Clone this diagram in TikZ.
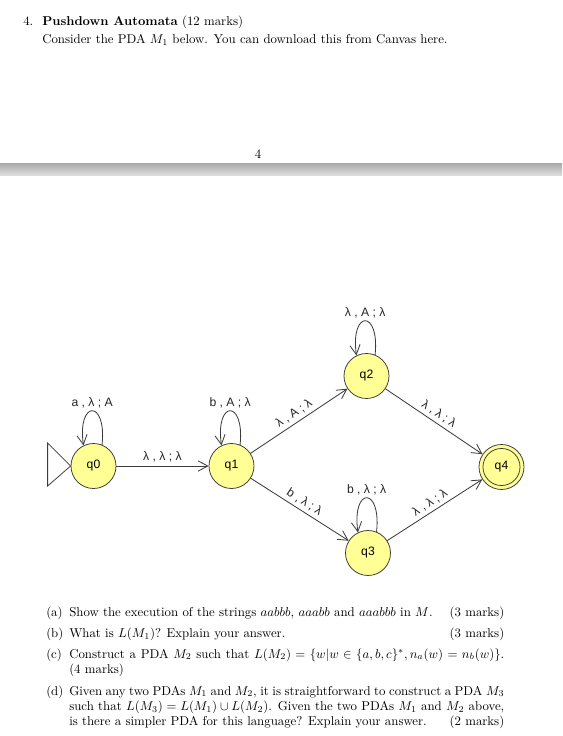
\documentclass[tikz,border=0pt]{standalone}
\usepackage{fontspec}
\newfontfamily\jflapfont{Liberation Sans}
\usetikzlibrary{arrows.meta}
\definecolor{jflapyellow}{RGB}{255,255,150}
\definecolor{jflapline}{RGB}{60,60,60}
\begin{document}
\begin{tikzpicture}[x=0.78pt,y=0.78pt,
  txt/.style={anchor=base west,inner sep=0pt},
  state/.style={circle,draw=jflapline,fill=jflapyellow,minimum size=35.1pt,inner sep=0pt,line width=0.6pt,font=\jflapfont\fontsize{9.5}{11}\selectfont},
  innerring/.style={circle,draw=jflapline,minimum size=28.9pt,inner sep=0pt,line width=0.6pt},
  edge/.style={draw=jflapline,line width=0.65pt,-{Straight Barb[length=7.5pt,width=8pt,line width=0.65pt]}},
  elabel/.style={font=\jflapfont\fontsize{9.5}{11}\selectfont,text=black!85,inner sep=2.5pt},
  looplabel/.style={elabel,inner sep=1.5pt},
  initial/.style={draw=jflapline,fill=white,line width=0.6pt,line join=miter}
]
\useasboundingbox (0,0) rectangle (562,-736);
\fill[white] (0,0) rectangle (562,-736);

% header
\node[txt] (qnum) at (23,-25.5) {4.};
\node[txt] (qtitle) at (42,-25.5) {\textbf{Pushdown Automata} (12 marks)};
\node[txt] (intro) at (42,-44) {Consider the PDA $M_1$ below. You can download this from Canvas here.};

% page number and page gap
\node[inner sep=0pt] (pagenum) at (258,-154) {4};
\shade[top color=black!32,bottom color=black!12] (0,-164) rectangle (562,-176);

% states
\node[state] (q0) at (93.5,-466) {q0};
\node[state] (q1) at (231.5,-466) {q1};
\node[state] (q2) at (366.5,-376) {q2};
\node[state] (q3) at (368,-553) {q3};
\node[state] (q4) at (501.5,-467) {};
\node[innerring] (q4in) at (q4.center) {};
\node[font=\jflapfont\fontsize{9.5}{11}\selectfont,inner sep=0pt] (q4t) at (q4.center) {q4};

% initial marker
\draw[initial] (q0.west) -- ++(-23,23) -- ++(0,-43) -- cycle;

% loops
\draw[edge] (q0.68) .. controls +(84:46) and +(98:46) .. (q0.116)
  node[midway,above,looplabel] (l00) {a , λ ; A};
\draw[edge] (q1.68) .. controls +(84:46) and +(98:46) .. (q1.116)
  node[midway,above,looplabel] (l11) {b , A ; λ};
\draw[edge] (q2.68) .. controls +(84:46) and +(98:46) .. (q2.116)
  node[midway,above,looplabel] (l22) {λ , A ; λ};
\draw[edge] (q3.68) .. controls +(84:46) and +(98:46) .. (q3.116)
  node[midway,above,looplabel] (l33) {b , λ ; λ};

% transitions
\draw[edge] (q0) -- (q1) node[midway,above,elabel] (l01) {λ , λ ; λ};
\draw[edge] (q1) -- (q2) node[midway,sloped,above,elabel] (l12) {λ , A ; λ};
\draw[edge] (q1) -- (q3) node[midway,sloped,above,elabel] (l13) {b , λ ; λ};
\draw[edge] (q2) -- (q4) node[midway,sloped,above,elabel] (l24) {λ , λ ; λ};
\draw[edge] (q3) -- (q4) node[midway,sloped,above,elabel] (l34) {λ , λ ; λ};

% questions
\node[txt] (la) at (46,-616) {(a)};
\node[txt] (ta) at (69,-616) {\parbox[t]{339.3pt}{Show the execution of the strings $aabbb$, $aaabb$ and $aaabbb$ in $M$.\hfill(3 marks)}};
\node[txt] (lb) at (46,-637.5) {(b)};
\node[txt] (tb) at (69,-637.5) {\parbox[t]{339.3pt}{What is $L(M_1)$? Explain your answer.\hfill(3 marks)}};
\node[txt] (lc) at (46,-658) {(c)};
\node[txt] (tc) at (69,-658) {\parbox[t]{339.3pt}{Construct a PDA $M_2$ such that $L(M_2)=\{w|w\in\{a,b,c\}^*,n_a(w)=n_b(w)\}$.\linebreak (4 marks)}};
\node[txt] (ld) at (46,-695) {(d)};
\node[txt] (td) at (69,-695) {\parbox[t]{339.3pt}{Given any two PDAs $M_1$ and $M_2$, it is straightforward to construct a PDA $M_3$\linebreak such that $L(M_3)=L(M_1)\cup L(M_2)$. Given the two PDAs $M_1$ and $M_2$ above,\linebreak is there a simpler PDA for this language? Explain your answer.\hfill(2 marks)}};
\end{tikzpicture}
\end{document}
